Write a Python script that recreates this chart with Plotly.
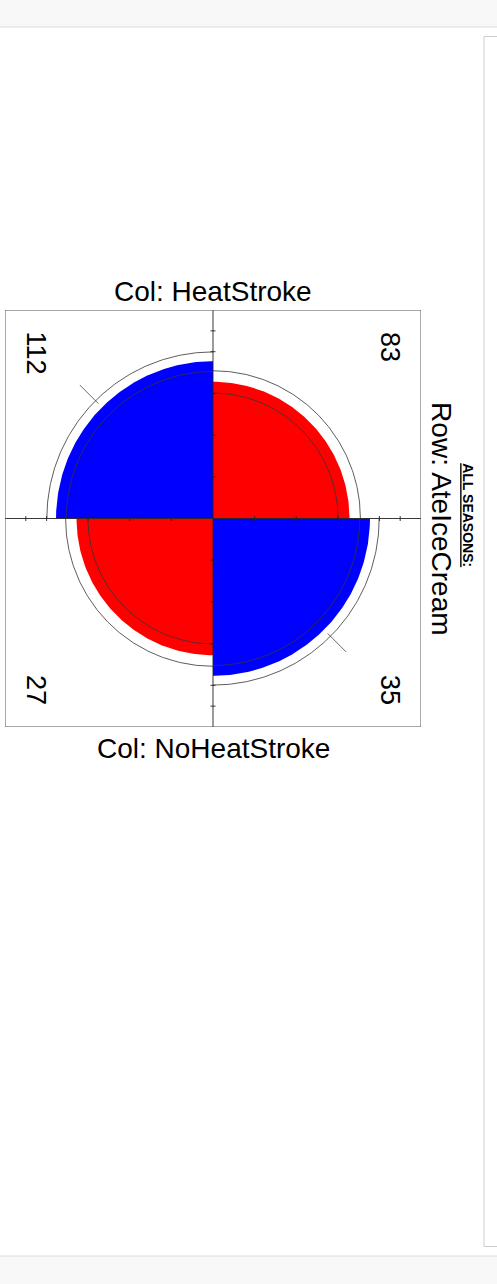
import numpy as np
import plotly.graph_objects as go

# 2x2 table as it sits on the page (rows: top / bottom, cols: left / right)
counts = np.array([[112, 83],
                   [27, 35]])
col_top = 'Col: HeatStroke'
col_bottom = 'Col: NoHeatStroke'
row_label = 'Row: AteIceCream'
panel_title = 'ALL SEASONS:'
pie_colors = [['#0000FF', '#FF0000'],
              ['#FF0000', '#0000FF']]
tick_vals = [0.2, 0.4, 0.6, 0.8, 0.9]
diag_mark_r = [0.78, 0.905]

W, H = 497, 1284
FONT = 'Liberation Sans, Arial, sans-serif'

# quadrant angle spans (degrees), same layout as counts
spans = [[(90, 180), (0, 90)],
         [(180, 270), (270, 360)]]


def std_margins(tab, n_iter=200):
    # iterative fit so row and column margins are equal, odds ratio kept
    t = tab.astype(float)
    for _ in range(n_iter):
        t = t / t.sum(axis=1, keepdims=True)
        t = t / t.sum(axis=0, keepdims=True)
    return t / t.sum(axis=1, keepdims=True)


def table_for_or(o):
    s = np.sqrt(o)
    a = s / (1 + s)
    return np.array([[a, 1 - a], [1 - a, a]])


def arc(r, a0, a1, n=120):
    th = np.radians(np.linspace(a0, a1, n))
    return r * np.cos(th), r * np.sin(th)


std = std_margins(counts)
radii = np.sqrt(std)

# 95% interval of the odds ratio -> rings
log_or = np.log(counts[0, 0] * counts[1, 1] / (counts[0, 1] * counts[1, 0]))
se = np.sqrt((1.0 / counts).sum())
z = 1.959964
ring_lo = np.sqrt(table_for_or(np.exp(log_or - z * se)))
ring_hi = np.sqrt(table_for_or(np.exp(log_or + z * se)))

fig = go.Figure()

# quarter circles
for i in range(2):
    for j in range(2):
        a0, a1 = spans[i][j]
        ax, ay = arc(radii[i, j], a0, a1)
        fig.add_trace(go.Scatter(x=np.r_[0, ax, 0], y=np.r_[0, ay, 0],
                                 mode='lines', fill='toself',
                                 fillcolor=pie_colors[i][j],
                                 line=dict(width=0, color=pie_colors[i][j]),
                                 hoverinfo='skip', showlegend=False))

# confidence rings
rx, ry = [], []
for i in range(2):
    for j in range(2):
        a0, a1 = spans[i][j]
        for rr in (ring_lo[i, j], ring_hi[i, j]):
            ax, ay = arc(rr, a0, a1)
            rx += list(ax) + [None]
            ry += list(ay) + [None]
fig.add_trace(go.Scatter(x=rx, y=ry, mode='lines',
                         line=dict(color='#333333', width=0.8),
                         hoverinfo='skip', showlegend=False))

# axes through the centre with ticks
tl = 0.012
axx = [-1, 1, None, 0, 0, None]
axy = [0, 0, None, -1, 1, None]
for t in tick_vals:
    for s in (-t, t):
        axx += [s, s, None, -tl, tl, None]
        axy += [-tl, tl, None, s, s, None]
fig.add_trace(go.Scatter(x=axx, y=axy, mode='lines',
                         line=dict(color='#222222', width=0.9),
                         hoverinfo='skip', showlegend=False))

# diagonal marks
dx, dy = [], []
for ang in (135, 315):
    c, s = np.cos(np.radians(ang)), np.sin(np.radians(ang))
    dx += [diag_mark_r[0] * c, diag_mark_r[1] * c, None]
    dy += [diag_mark_r[0] * s, diag_mark_r[1] * s, None]
fig.add_trace(go.Scatter(x=dx, y=dy, mode='lines',
                         line=dict(color='#444444', width=0.8),
                         hoverinfo='skip', showlegend=False))


def dom(v):
    # data unit (-1..1) -> axis domain fraction
    return (v + 1) / 2


def label(x, y, text, size, angle=0, xanchor='center', yanchor='middle'):
    return dict(x=dom(x), y=dom(y), xref='x domain', yref='y domain',
                text=text, showarrow=False, textangle=angle,
                xanchor=xanchor, yanchor=yanchor,
                font=dict(size=size, color='black', family=FONT))


annotations = []
corner = 0.904
for i, yy, ya in ((0, corner, 'top'), (1, -corner, 'bottom')):
    for j, xx in ((0, -0.851), (1, 0.851)):
        annotations.append(label(xx, yy, str(counts[i, j]), 27, 90, yanchor=ya))
annotations += [
    label(0, 1.091, col_top, 28),
    label(0, -1.104, col_bottom, 28),
    label(1.098, 0, row_label, 28, 90),
    label(1.222, 0.015, '<b><u>' + panel_title + '</u></b>', 14, 90),
]


def py(px):
    return 1 - px / H


shapes = [
    dict(type='rect', xref='x', yref='y', x0=-1, x1=1, y0=-1, y1=1,
         line=dict(color='#555555', width=1)),
    # page chrome
    dict(type='rect', xref='paper', yref='paper', x0=0, x1=1, y0=py(27), y1=1,
         fillcolor='#f8f8f8', line=dict(width=0), layer='below'),
    dict(type='line', xref='paper', yref='paper', x0=0, x1=1, y0=py(27), y1=py(27),
         line=dict(color='#dcdcdc', width=1)),
    dict(type='rect', xref='paper', yref='paper', x0=0, x1=1, y0=0, y1=py(1256),
         fillcolor='#f8f8f8', line=dict(width=0), layer='below'),
    dict(type='line', xref='paper', yref='paper', x0=0, x1=1, y0=py(1256), y1=py(1256),
         line=dict(color='#dcdcdc', width=1)),
    dict(type='path', xref='paper', yref='paper',
         path=f'M 1 {py(36.5)} L {484/W} {py(36.5)} L {484/W} {py(1246.5)} L 1 {py(1246.5)}',
         line=dict(color='#cccccc', width=1)),
]

fig.update_layout(
    width=W, height=H,
    margin=dict(l=0, r=0, t=0, b=0),
    paper_bgcolor='white', plot_bgcolor='white',
    showlegend=False,
    xaxis=dict(domain=[5 / W, 421 / W], range=[-1, 1], visible=False, fixedrange=True),
    yaxis=dict(domain=[py(727), py(310)], range=[-1, 1], visible=False, fixedrange=True),
    annotations=annotations,
    shapes=shapes,
)

fig.write_html('out.html', config={'displayModeBar': False},
               post_script="document.body.style.margin='0';")
